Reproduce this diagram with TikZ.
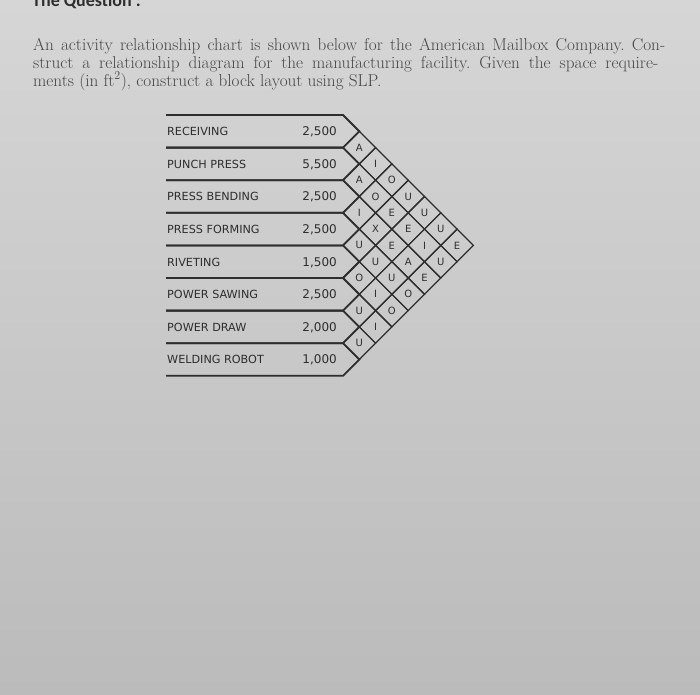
\documentclass[tikz,border=0pt]{standalone}
\usepackage{fontspec}
\newfontfamily\rowfont{DejaVu Sans}
\newfontfamily\headfont{Carlito}
\definecolor{bgtop}{HTML}{D6D6D6}
\definecolor{bgbot}{HTML}{BBBBBB}
\definecolor{ink}{HTML}{2E2E2E}
\definecolor{bodyink}{HTML}{474747}
\tikzset{
  rule/.style={draw=ink, line width=1.8pt},
  diam/.style={draw=ink, line width=1.2pt, line join=miter},
  lab/.style={anchor=base west, inner sep=0pt, text=ink, font=\rowfont\fontsize{11.2}{13}\selectfont},
  num/.style={anchor=base east, inner sep=0pt, text=ink, font=\rowfont\fontsize{12}{13}\selectfont},
  rel/.style={inner sep=0pt, text=ink, font=\rowfont\fontsize{10}{12}\selectfont},
  body/.style={anchor=base west, inner sep=0pt, text=bodyink, font=\frenchspacing\fontsize{17.2}{19}\selectfont},
}
\begin{document}
\begin{tikzpicture}[x=1pt,y=-1pt]
\shade[top color=bgtop, bottom color=bgbot] (0,0) rectangle (700,694);
\useasboundingbox (0,0) rectangle (700,694);
% heading, cut at the top edge as in the photo
\node[anchor=base west, inner sep=0pt, text=ink, font=\headfont\bfseries\fontsize{18}{20}\selectfont] (title) at (32,6) {The Question :};
% paragraph
\node[body] (line1) at (33,50) {\makebox[632pt][s]{An activity relationship chart is shown below for the American Mailbox Company. Con-}};
\node[body] (line2) at (33,68) {\makebox[625pt][s]{struct a relationship diagram for the manufacturing facility. Given the space require-}};
\node[body] (line3) at (33,86) {ments (in ft\textsuperscript{2}), construct a block layout using SLP.};
% rows
\foreach \i/\name/\area in {1/RECEIVING/{2,500},2/PUNCH PRESS/{5,500},3/PRESS BENDING/{2,500},4/PRESS FORMING/{2,500},5/RIVETING/{1,500},6/POWER SAWING/{2,500},7/POWER DRAW/{2,000},8/WELDING ROBOT/{1,000}}{
  \pgfmathsetmacro\top{115+32.6*(\i-1)}
  \pgfmathsetmacro\mid{\top+16.3}
  \pgfmathsetmacro\bot{\top+32.6}
  \draw[rule] (166,\top) -- (343,\top) -- (359.3,\mid) -- (343,\bot) -- (166,\bot);
  \node[lab] (name\i) at (167,\mid+4.3) {\name};
  \node[num] (area\i) at (337,\mid+4.3) {\area};
}
% relationship diamonds
\foreach \i/\j/\l in {1/2/A,1/3/I,1/4/O,1/5/U,1/6/U,1/7/U,1/8/E,
                      2/3/A,2/4/O,2/5/E,2/6/E,2/7/I,2/8/U,
                      3/4/I,3/5/X,3/6/E,3/7/A,3/8/E,
                      4/5/U,4/6/U,4/7/U,4/8/O,
                      5/6/O,5/7/I,5/8/O,
                      6/7/U,6/8/I,
                      7/8/U}{
  \pgfmathsetmacro\cx{343+(\j-\i)*16.3}
  \pgfmathsetmacro\cy{115+16.3*(\i+\j-1)}
  \draw[diam] (\cx-16.3,\cy) -- (\cx,\cy-16.3) -- (\cx+16.3,\cy) -- (\cx,\cy+16.3) -- cycle;
  \node[rel] (r\i\j) at (\cx,\cy) {\l};
}
\end{tikzpicture}
\end{document}
